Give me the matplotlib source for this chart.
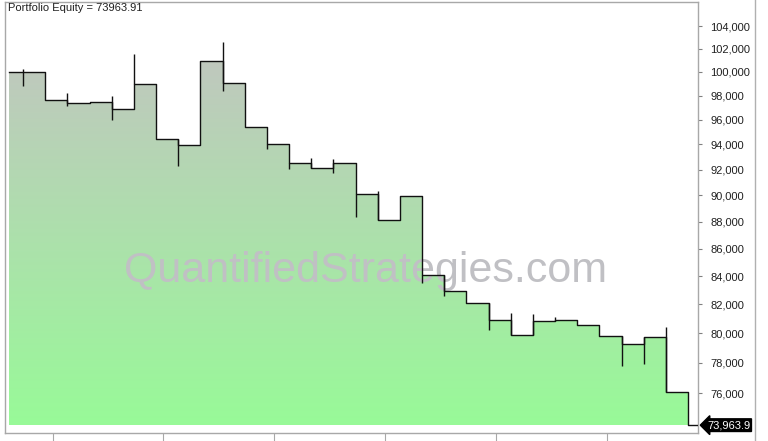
import numpy as np
import matplotlib
matplotlib.use("Agg")
import matplotlib.pyplot as plt
import matplotlib.ticker as mticker
import matplotlib.transforms as mtransforms
from matplotlib.patches import Polygon
from matplotlib.lines import Line2D

# equity at the close of each bar (bar 0 is only partly visible)
closes = [100000, 100000, 97596, 97362, 97470, 96890, 98955, 94463,
          93980, 100918, 99023, 95412, 94037, 92499, 92130, 92499,
          90083, 88127, 89927, 84083, 82944, 82078, 80894, 79867,
          80847, 80915, 80591, 79798, 79296, 79750, 76102, 73963.91]

# intra-bar excursions drawn as wicks at the start of a bar
wick_bar = [1, 3, 5, 6, 8, 10, 12, 13, 14, 15, 16, 17, 19, 20, 22, 23, 24, 25, 28, 29, 30]
wick_hi = [100231, 98198, 97996, 101523, 94463, 102595, 94037, 92499, 92895, 92839,
           90083, 90360, 84083, 84083, 82078, 81418, 81328, 81143, 79798, 79750, 80413]
wick_lo = [98812, 97162, 95983, 98955, 92311, 98391, 93614, 92025, 92130, 91713,
           88332, 88127, 83533, 82590, 80228, 79867, 79867, 80847, 77815, 77908, 76102]

y_ticks = list(range(76000, 104001, 2000))
last_value = 73963.91
title = "Portfolio Equity = 73963.91"
watermark = "QuantifiedStrategies.com"

W, H = 768, 441
fig = plt.figure(figsize=(W / 100, H / 100), dpi=100)
ax = fig.add_axes([5 / W, (H - 433) / H, (698 - 5) / W, (433 - 2) / H])

x0, x1 = 0.18, 31.45
start = 0.375
ymin, ymax = 73470, 106160

ax.set_yscale("log")
ax.set_xlim(x0, x1)
ax.set_ylim(ymin, ymax)
ax.set_autoscale_on(False)

n = len(closes)
edges = np.arange(n, dtype=float)
edges[0] = start
xs = np.append(edges, x1)
ys = np.append(closes, closes[-1])

# gradient filled area under the step curve, down to the lowest value
base = min(closes)
verts = [(start, base)]
for i in range(n - 1):
    verts.append((xs[i], closes[i]))
    verts.append((xs[i + 1], closes[i]))
verts.append((xs[n - 1], base))
clip = Polygon(verts, closed=True, transform=ax.transData, facecolor="none", edgecolor="none")
ax.add_patch(clip)

top_c = np.array([198, 192, 196]) / 255
bot_c = np.array([152, 250, 152]) / 255
frac_bottom = (433 - 426) / (433 - 2)
t = np.linspace(0, 1, 256)[:, None]
grad = top_c + (bot_c - top_c) * t
grad = grad[:, None, :]
im = ax.imshow(grad, extent=[0, 1, frac_bottom, 1], transform=ax.transAxes,
               aspect="auto", interpolation="bilinear", zorder=1)
im.set_clip_path(clip)

ax.text(0.52, 1 - (282 - 2) / 431, watermark, transform=ax.transAxes,
        ha="center", va="baseline", fontsize=31, color="#c0c0c4",
        family="Liberation Sans", zorder=2)

ax.step(xs, ys, where="post", color="#111111", lw=1.0, zorder=3)
ax.vlines(np.array(wick_bar, dtype=float), wick_lo, wick_hi, color="#111111", lw=1.0, zorder=3)

ax.set_xlim(x0, x1)
ax.set_ylim(ymin, ymax)

# axes styling
for s in ax.spines.values():
    s.set_color("#a8a8a8")
    s.set_linewidth(1.0)
ax.yaxis.tick_right()
ax.yaxis.set_major_locator(mticker.FixedLocator(y_ticks))
ax.yaxis.set_minor_locator(mticker.NullLocator())
ax.yaxis.set_major_formatter(mticker.FuncFormatter(lambda v, p: f"{v:,.0f}"))
ax.tick_params(axis="y", which="major", length=3, color="#808080", pad=6,
               labelsize=8, labelcolor="#202020")
for lab in ax.get_yticklabels():
    lab.set_family("Liberation Sans")
ax.set_xticks(np.arange(2.33, 31, 5))
ax.tick_params(axis="x", length=7, color="#a8a8a8", labelbottom=False)

ax.annotate(f"{last_value:,.1f}", xy=(1, last_value),
            xycoords=("axes fraction", "data"), xytext=(9, 0),
            textcoords="offset pixels", ha="left", va="center",
            fontsize=8, color="white", family="Liberation Sans",
            bbox=dict(boxstyle="larrow,pad=0.12", fc="black", ec="black"),
            annotation_clip=False)

fig.text(8 / W, 1 - 3 / H, title, ha="left", va="top", fontsize=8,
         color="#202020", family="Liberation Sans")

fig.add_artist(Line2D([755 / W, 755 / W], [0, 1], color="#b0b0b0", lw=1.0))

fig.savefig("out.png", dpi=100)
